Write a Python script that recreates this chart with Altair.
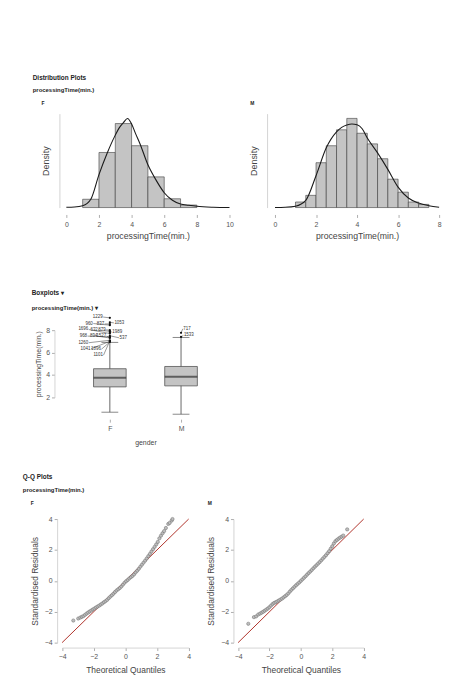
import altair as alt
import pandas as pd

FONT = "Liberation Sans"

# ---------------- Distribution plots (density histograms) ----------------
f_bin_start = [1, 2, 3, 4, 5, 6, 7]
f_bin_end = [2, 3, 4, 5, 6, 7, 8]
f_density = [0.033, 0.219, 0.334, 0.246, 0.122, 0.035, 0.010]
f_curve_x = [0, 0.5, 1.0, 1.5, 2.0, 2.5, 3.0, 3.25, 3.5, 3.75, 4.0, 4.25, 4.5, 5.0, 5.5, 6.0, 6.5, 7.0, 7.5, 8.0, 9.0, 10.0]
f_curve_y = [0.001, 0.002, 0.007, 0.033, 0.131, 0.216, 0.288, 0.318, 0.338, 0.354, 0.332, 0.293, 0.256, 0.170, 0.109, 0.059, 0.029, 0.014, 0.009, 0.005, 0.0013, 0.0]

m_bin_start = [1.0, 1.5, 2.0, 2.5, 3.0, 3.5, 4.0, 4.5, 5.0, 5.5, 6.0, 6.5, 7.0]
m_bin_end = [1.5, 2.0, 2.5, 3.0, 3.5, 4.0, 4.5, 5.0, 5.5, 6.0, 6.5, 7.0, 7.5]
m_density = [0.021, 0.046, 0.169, 0.233, 0.293, 0.336, 0.280, 0.240, 0.184, 0.107, 0.058, 0.021, 0.012]
m_curve_x = [0, 0.5, 1.0, 1.5, 2.0, 2.5, 3.0, 3.25, 3.5, 3.75, 4.0, 4.25, 4.5, 5.0, 5.5, 6.0, 6.5, 7.0, 7.5, 8.0]
m_curve_y = [0.0, 0.001, 0.005, 0.027, 0.120, 0.225, 0.285, 0.302, 0.311, 0.315, 0.312, 0.297, 0.262, 0.206, 0.144, 0.077, 0.036, 0.017, 0.007, 0.001]

f_xticks = [0, 2, 4, 6, 8, 10]
m_xticks = [0, 2, 4, 6, 8]

# ---------------- Boxplots ----------------
genders = ["F", "M"]
gender_pos = [1, 2]
box_low = [0.68, 0.50]
box_q1 = [2.94, 3.03]
box_med = [3.76, 3.85]
box_q3 = [4.56, 4.76]
box_high = [6.91, 7.35]
box_yticks = [2, 4, 6, 8]

out_label = ["1229", "960", "837", "1053", "1696", "632", "879", "1989", "537",
             "968", "894", "1527", "1260", "1041", "1896", "1101", "717", "1533"]
out_side = ["L", "L", "L", "R", "L", "L", "L", "R", "R",
            "L", "L", "L", "L", "L", "L", "L", "R", "R"]
out_label_x = [0.906, 0.768, 0.927, 1.057, 0.704, 0.838, 0.948, 1.028, 1.13,
               0.687, 0.833, 0.955, 0.704, 0.735, 0.882, 0.911, 2.024, 2.033]
out_label_y = [9.17, 8.59, 8.56, 8.65, 8.06, 8.0, 8.03, 7.85, 7.32,
               7.47, 7.47, 7.47, 6.88, 6.35, 6.3, 5.77, 8.12, 7.53]
out_pos = [1] * 16 + [2, 2]
out_value = [9.1, 8.45, 8.55, 8.7, 7.7, 7.9, 8.0, 7.8, 7.5,
             7.4, 7.3, 7.35, 7.1, 7.0, 6.95, 7.05, 7.76, 7.4]

# ---------------- Q-Q plots ----------------
f_qq_x = [-3.29, -2.98, -2.85, -2.75, -2.65, -2.55, -2.45, -2.35, -2.25, -2.15,
          -2.05, -1.95, -1.85, -1.75, -1.65, -1.55, -1.45, -1.35, -1.25, -1.15,
          -1.05, -0.95, -0.85, -0.75, -0.65, -0.55, -0.45, -0.35, -0.25, -0.15,
          -0.05, 0.05, 0.15, 0.25, 0.35, 0.45, 0.55, 0.65, 0.75, 0.85,
          0.95, 1.05, 1.15, 1.25, 1.35, 1.45, 1.55, 1.65, 1.75, 1.85,
          1.95, 2.05, 2.15, 2.25, 2.35, 2.45, 2.56, 2.71, 2.8, 2.93, 2.98]
f_qq_y = [-2.57, -2.44, -2.38, -2.33, -2.28, -2.2, -2.12, -2.05, -1.98, -1.92,
          -1.85, -1.79, -1.72, -1.66, -1.6, -1.53, -1.46, -1.38, -1.31, -1.23,
          -1.12, -1.02, -0.93, -0.83, -0.72, -0.62, -0.54, -0.46, -0.36, -0.24,
          -0.12, -0.02, 0.06, 0.16, 0.24, 0.32, 0.42, 0.55, 0.66, 0.78,
          0.92, 1.05, 1.18, 1.31, 1.45, 1.6, 1.74, 1.9, 2.05, 2.2,
          2.36, 2.52, 2.75, 2.92, 3.08, 3.22, 3.42, 3.68, 3.75, 3.9, 4.0]
m_qq_x = [-3.35, -2.99, -2.85, -2.72, -2.6, -2.5, -2.4, -2.3, -2.2, -2.1,
          -2.0, -1.9, -1.8, -1.7, -1.6, -1.5, -1.4, -1.3, -1.2, -1.1,
          -1.0, -0.9, -0.8, -0.7, -0.6, -0.5, -0.4, -0.3, -0.2, -0.1,
          0.0, 0.1, 0.2, 0.3, 0.4, 0.5, 0.6, 0.7, 0.8, 0.9,
          1.0, 1.1, 1.2, 1.3, 1.4, 1.5, 1.6, 1.7, 1.8, 1.9,
          2.0, 2.1, 2.2, 2.3, 2.4, 2.5, 2.6, 2.7, 2.95]
m_qq_y = [-2.78, -2.35, -2.3, -2.18, -2.12, -2.06, -2.0, -1.93, -1.86, -1.79,
          -1.7, -1.6, -1.5, -1.43, -1.38, -1.33, -1.27, -1.21, -1.15, -1.07,
          -0.99, -0.91, -0.81, -0.69, -0.58, -0.48, -0.38, -0.28, -0.19, -0.1,
          0.0, 0.1, 0.2, 0.3, 0.41, 0.51, 0.61, 0.71, 0.82, 0.92,
          1.02, 1.12, 1.22, 1.33, 1.44, 1.55, 1.66, 1.79, 1.92, 2.08,
          2.24, 2.42, 2.57, 2.65, 2.73, 2.8, 2.86, 2.93, 3.33]
qq_ref = [-4, 4]
qq_ticks = [-4, -2, 0, 2, 4]

BAR_FILL = "#c4c4c4"
EDGE = "#3c3c3c"


def panel_title(text, dx, offset):
    return alt.TitleParams(text, anchor="start", frame="group", dx=dx, offset=offset,
                           fontSize=5, fontWeight="bold", color="#222")


def section_title(text, sub, dx, offset, pad):
    return alt.TitleParams(text, subtitle=sub, anchor="start", frame="group", dx=dx,
                           offset=offset, subtitlePadding=pad, fontSize=6.5,
                           fontWeight="bold", subtitleFontSize=6,
                           subtitleFontWeight="bold", color="#222", subtitleColor="#222")


def histogram(bs, be, dens, cx, cy, xmax, ticks, xrange, ymax, name, dx):
    hist_df = pd.DataFrame({"x0": bs, "x1": be, "d": dens})
    curve_df = pd.DataFrame({"x": cx, "d": cy})
    xs = alt.Scale(domain=[0, xmax], range=xrange, nice=False, zero=False)
    ys = alt.Scale(domain=[0, ymax], range=[95, 0], nice=False)
    bars = alt.Chart(hist_df).mark_rect(fill=BAR_FILL, stroke=EDGE, strokeWidth=0.6).encode(
        x=alt.X("x0:Q", scale=xs,
                axis=alt.Axis(values=ticks, tickCount=20, format="d",
                              title="processingTime(min.)", offset=0, domain=False,
                              labelFontSize=7, titleFontSize=8.8, titlePadding=4,
                              labelPadding=3)),
        x2="x1:Q",
        y=alt.Y("d:Q", scale=ys,
                axis=alt.Axis(labels=False, ticks=False, title="Density",
                              titleFontSize=9, titlePadding=9)),
        y2=alt.datum(0),
    )
    curve = alt.Chart(curve_df).mark_line(color="#1a1a1a", strokeWidth=1.1,
                                          interpolate="monotone").encode(
        x="x:Q", y="d:Q")
    return alt.layer(bars, curve).properties(width=180, height=102,
                                             title=panel_title(name, dx, 8))


hist_f = histogram(f_bin_start, f_bin_end, f_density, f_curve_x, f_curve_y, 10,
                   f_xticks, [7, 172], 0.3735, "F", -18)
hist_m = histogram(m_bin_start, m_bin_end, m_density, m_curve_x, m_curve_y, 8,
                   m_xticks, [8, 174], 0.354, "M", -17)

row1 = alt.hconcat(hist_f, hist_m, spacing=30, bounds="flush",
                   title=section_title("Distribution Plots", "processingTime(min.)", -27, 8, 6))

# ---------------- Boxplot panel ----------------
box_df = pd.DataFrame({"gender": genders, "pos": gender_pos, "low": box_low, "q1": box_q1,
                       "med": box_med, "q3": box_q3, "high": box_high})
out_df = pd.DataFrame({"label": out_label, "side": out_side, "lx": out_label_x,
                       "ly": out_label_y, "pos": out_pos, "value": out_value})

bx = alt.Scale(domain=[1, 2], range=[46, 128], nice=False, zero=False)
by = alt.Scale(domain=[2, 8], range=[82, 14], nice=False, zero=False)

whisk = alt.Chart(box_df).mark_rule(color="#555", strokeWidth=0.9).encode(
    x=alt.X("pos:Q", scale=bx,
            axis=alt.Axis(values=gender_pos, tickCount=10,
                          labelExpr="datum.value == 1 ? 'F' : 'M'",
                          domain=False, title="gender", titleFontSize=7,
                          labelFontSize=7, titlePadding=8)),
    y=alt.Y("low:Q", scale=by,
            axis=alt.Axis(values=box_yticks, tickCount=20, format="d",
                          title="processingTime(min.)", offset=5, titleFontSize=7,
                          labelFontSize=7, titlePadding=4)),
    y2="high:Q",
)
box = alt.Chart(box_df).mark_bar(size=33, fill=BAR_FILL, stroke="#555",
                                 strokeWidth=0.8).encode(x="pos:Q", y="q1:Q", y2="q3:Q")
med = alt.Chart(box_df).mark_tick(orient="horizontal", size=33, thickness=2,
                                  color="#333").encode(x="pos:Q", y="med:Q")
cap_low = alt.Chart(box_df).mark_tick(orient="horizontal", size=17, thickness=1,
                                      color="#555").encode(x="pos:Q", y="low:Q")
cap_high = alt.Chart(box_df).mark_tick(orient="horizontal", size=17, thickness=1,
                                       color="#555").encode(x="pos:Q", y="high:Q")
leaders = alt.Chart(out_df).mark_rule(color="#333", strokeWidth=0.5).encode(
    x="lx:Q", y="ly:Q", x2="pos:Q", y2="value:Q")
pts = alt.Chart(out_df).mark_circle(size=5, color="#111", opacity=1).encode(
    x="pos:Q", y="value:Q")
lab_l = alt.Chart(out_df).transform_filter("datum.side == 'L'").mark_text(
    align="right", baseline="middle", fontSize=4.5, font=FONT, color="#333", dx=-0.5).encode(
    x="lx:Q", y="ly:Q", text="label:N")
lab_r = alt.Chart(out_df).transform_filter("datum.side == 'R'").mark_text(
    align="left", baseline="middle", fontSize=4.5, font=FONT, color="#333", dx=0.5).encode(
    x="lx:Q", y="ly:Q", text="label:N")

box_panel = alt.layer(whisk, box, med, cap_low, cap_high, leaders, pts, lab_l, lab_r).properties(
    width=180, height=104)
row2 = alt.hconcat(box_panel, bounds="flush",
                   title=section_title("Boxplots \u25BE", "processingTime(min.) \u25BE", -28, 3, 9))

# ---------------- Q-Q panels ----------------
def qq_panel(xv, yv, xrange, yoff, name, dx):
    df = pd.DataFrame({"tq": xv, "sr": yv})
    ref = pd.DataFrame({"a": qq_ref, "b": qq_ref})
    xs = alt.Scale(domain=[-4, 4], range=xrange, nice=False)
    ys = alt.Scale(domain=[-4, 4], range=[125, 0], nice=False)
    line = alt.Chart(ref).mark_line(color="#b0342c", strokeWidth=1).encode(
        x=alt.X("a:Q", scale=xs,
                axis=alt.Axis(values=qq_ticks, tickCount=20, format="d",
                              title="Theoretical Quantiles", offset=5, labelFontSize=7,
                              titleFontSize=8.5, titlePadding=6)),
        y=alt.Y("b:Q", scale=ys,
                axis=alt.Axis(values=qq_ticks, tickCount=20, format="d",
                              title="Standardised Residuals", offset=yoff, labelFontSize=7,
                              titleFontSize=8.5, titlePadding=5)),
    )
    dots = alt.Chart(df).mark_circle(size=11, fill="#bdbdbd", stroke="#6a6a6a",
                                     strokeWidth=0.5, opacity=1).encode(x="tq:Q", y="sr:Q")
    return alt.layer(line, dots).properties(width=140, height=125,
                                            title=panel_title(name, dx, 9))


qq_f = qq_panel(f_qq_x, f_qq_y, [2.7, 130.7], 2.3, "F", -29)
qq_m = qq_panel(m_qq_x, m_qq_y, [4.7, 131.7], 0, "M", -26)
row3 = alt.hconcat(qq_f, qq_m, spacing=36, bounds="flush",
                   title=section_title("Q-Q Plots", "processingTime(min.)", -37, 8, 7))

chart = alt.vconcat(row1, row2, row3, spacing=205, bounds="flush").properties(
    padding={"left": 15, "top": 63, "right": 5, "bottom": 5}
).configure_view(stroke=None).configure_axis(
    grid=False, labelFont=FONT, titleFont=FONT, domainColor="#c8c8c8", tickColor="#9a9a9a",
    labelColor="#555", titleColor="#444", titleFontWeight="normal", tickSize=3,
    domainWidth=0.8, tickWidth=0.8, labelOverlap=False, labelFlush=False
).configure_title(font=FONT, subtitleFont=FONT)

chart.save("out.html", embed_options={"renderer": "svg", "actions": False})
